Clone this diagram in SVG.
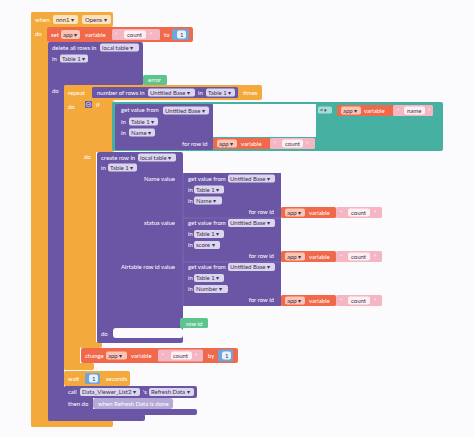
<svg xmlns="http://www.w3.org/2000/svg" width="474" height="437" viewBox="0 0 474 437">
<style>
text{font-family:Lato,"Noto Sans",sans-serif;font-size:6px;fill:#fff}
.dk{fill:#3b3252}
.o{fill:#F4A93D}
.p{fill:#6B56A6}
.r{fill:#F1694B}
.k{fill:#F5B6C3}
.g{fill:#5EC48E}
.b{fill:#6CA6DD}
.c{fill:#46B1A2}
.pp{fill:#DCD5EE}
.po{fill:#FCE3BF}
.pr{fill:#FAC5B3}
.pw{fill:#FDEFF2}
.pb{fill:#E9F2FB}
.pc{fill:#A6DCD3}
.lv{fill:#B5A9D8}
.bg{fill:#FBFBFD}
.sep{stroke:#8572BC;stroke-width:0.6}
</style>
<rect width="474" height="437" fill="#FBFBFD"/>
<g id="connectors"/>

<g id="when">
<rect class="o" x="31" y="12" width="82" height="15" rx="2"/>
<rect class="o" x="31" y="12" width="17" height="415" rx="2"/>
<rect class="o" x="31" y="420" width="82" height="7" rx="2"/>
<text x="35" y="22">when</text>
<rect class="po" x="53" y="15" width="25" height="9" rx="2"/>
<text class="dk" x="56" y="22">nnn1 ▾</text>
<rect class="po" x="82" y="15" width="29" height="9" rx="2"/>
<text class="dk" x="85" y="22">Opens ▾</text>
<text x="35" y="36">do</text>
</g>

<g id="set">
<rect class="r" x="47" y="27" width="146" height="15" rx="2"/>
<text x="51" y="37">set</text>
<rect class="pr" x="61" y="30" width="19" height="9" rx="2"/>
<text class="dk" x="63" y="37">app ▾</text>
<text x="85" y="37">variable</text>
<rect class="k" x="112" y="29" width="48" height="11" rx="1.5"/>
<text x="115" y="37">“</text>
<rect class="pw" x="124" y="30.5" width="22" height="8" rx="2"/>
<text class="dk" x="127" y="37">count</text>
<text x="150" y="37">”</text>
<text x="164" y="37">to</text>
<rect class="b" x="172" y="29" width="17" height="11" rx="1.5"/>
<rect class="pb" x="177" y="30.5" width="9" height="8" rx="2"/>
<text class="dk" x="180" y="37">1</text>
</g>

<g id="delete-rows">
<rect class="p" x="48" y="42" width="95" height="44" rx="2"/>
<rect class="p" x="48" y="42" width="16" height="379" rx="2"/>
<rect class="p" x="48" y="414" width="97" height="7" rx="2"/>
<text x="52" y="49.5">delete all rows in</text>
<rect class="pp" x="100" y="43.5" width="39" height="8" rx="2"/>
<text class="dk" x="102" y="49.5">local table ▾</text>
<text x="52" y="60.5">in</text>
<rect class="pp" x="60" y="54.5" width="28" height="8" rx="2"/>
<text class="dk" x="62" y="60.5">Table 1 ▾</text>
<text x="52" y="93">do</text>
</g>
<g id="error">
<rect class="g" x="143" y="75" width="24" height="10" rx="1.5"/>
<text x="148" y="82">error</text>
</g>

<g id="repeat">
<rect class="o" x="64" y="85" width="198" height="15" rx="2"/>
<rect class="o" x="64" y="85" width="16" height="285" rx="2"/>
<rect class="o" x="64" y="363" width="30" height="7" rx="2"/>
<text x="68" y="95">repeat</text>
<text x="243" y="95">times</text>
<text x="68" y="109">do</text>
</g>
<g id="num-rows">
<rect class="p" x="92" y="87" width="146" height="11" rx="1.5"/>
<text x="97" y="94.5">number of rows in</text>
<rect class="pp" x="148" y="88.5" width="47" height="8" rx="2"/>
<text class="dk" x="150" y="94.5">Untitled Base ▾</text>
<text x="198" y="94.5">in</text>
<rect class="pp" x="206" y="88.5" width="29" height="8" rx="2"/>
<text class="dk" x="208" y="94.5">Table 1 ▾</text>
</g>

<g id="if">
<rect class="o" x="80" y="100" width="34" height="52" rx="2"/>
<rect class="o" x="80" y="100" width="16" height="248" rx="2"/>
<rect class="o" x="80" y="342" width="22" height="6" rx="2"/>
<rect class="p" x="85" y="101" width="7" height="7" rx="1"/>
<circle cx="88.5" cy="104.5" r="2.3" fill="none" stroke="#fff" stroke-width="0.6"/>
<line x1="87.3" y1="104.5" x2="89.7" y2="104.5" stroke="#fff" stroke-width="0.6"/>
<text x="96" y="107">if</text>
<text x="84" y="159">do</text>
</g>

<g id="compare">
<rect class="c" x="112" y="102" width="331" height="49" rx="2"/>
<rect class="bg" x="213" y="104" width="103" height="33"/>
<rect class="pc" x="318" y="106.5" width="14" height="7" rx="1.5"/>
<text class="dk" x="320" y="112" style="font-size:5px">= ▾</text>
<rect class="r" x="337" y="105" width="56" height="11" rx="1.5"/>
<rect class="pr" x="341" y="106.5" width="20" height="8" rx="2"/>
<text class="dk" x="343" y="112.5">app ▾</text>
<text x="364" y="112.5">variable</text>
<rect class="k" x="393" y="105" width="40" height="11" rx="1.5"/>
<text x="397" y="112.5">“</text>
<rect class="pw" x="404" y="106.5" width="21" height="8" rx="2"/>
<text class="dk" x="407" y="112.5">name</text>
<text x="428" y="112.5">”</text>
</g>

<g id="get-value-if">
<rect class="p" x="115" y="104" width="98" height="46" rx="1.5"/>
<text x="121" y="112">get value from</text>
<rect class="pp" x="163" y="106.5" width="46" height="8" rx="2"/>
<text class="dk" x="165" y="112.5">Untitled Base ▾</text>
<text x="121" y="123.5">in</text>
<rect class="pp" x="129" y="117.5" width="29" height="8" rx="2"/>
<text class="dk" x="131" y="123.5">Table 1 ▾</text>
<text x="121" y="134.5">in</text>
<rect class="pp" x="129" y="128.5" width="26" height="8" rx="2"/>
<text class="dk" x="131" y="134.5">Name ▾</text>
<text x="182" y="145.5">for row id</text>
<rect class="r" x="213" y="138" width="57" height="11" rx="1.5"/>
<rect class="pr" x="217" y="139.5" width="20" height="8" rx="2"/>
<text class="dk" x="219" y="145.5">app ▾</text>
<text x="241" y="145.5">variable</text>
<rect class="k" x="270" y="138" width="45" height="11" rx="1.5"/>
<text x="274" y="145.5">“</text>
<rect class="pw" x="282" y="139.5" width="21" height="8" rx="2"/>
<text class="dk" x="285" y="145.5">count</text>
<text x="306" y="145.5">”</text>
</g>

<g id="create-row">
<rect class="p" x="97" y="152" width="86" height="191" rx="2"/>
<rect class="bg" x="113" y="328" width="70" height="10" rx="3"/>
<text x="101" y="159.5">create row in</text>
<rect class="pp" x="138" y="153.5" width="38" height="8" rx="2"/>
<text class="dk" x="140" y="159.5">local table ▾</text>
<text x="101" y="169.5">in</text>
<rect class="pp" x="108" y="163.5" width="29" height="8" rx="2"/>
<text class="dk" x="110" y="169.5">Table 1 ▾</text>
<text x="175" y="180.5" text-anchor="end">Name value</text>
<text x="175" y="225" text-anchor="end">status value</text>
<text x="175" y="269" text-anchor="end">Airtable row id value</text>
<text x="101" y="335.5">do</text>
</g>

<g id="get-value-name">
<rect class="p" x="183" y="173" width="98" height="45"/>
<line class="sep" x1="183" y1="173" x2="183" y2="218"/>
<text x="188" y="180.5">get value from</text>
<rect class="pp" x="228" y="174.5" width="47" height="8" rx="2"/>
<text class="dk" x="230" y="180.5">Untitled Base ▾</text>
<text x="188" y="191.5">in</text>
<rect class="pp" x="194" y="185.5" width="30" height="8" rx="2"/>
<text class="dk" x="196" y="191.5">Table 1 ▾</text>
<text x="188" y="202.5">in</text>
<rect class="pp" x="194" y="196.5" width="28" height="8" rx="2"/>
<text class="dk" x="196" y="202.5">Name ▾</text>
<text x="274" y="214" text-anchor="end">for row id</text>
<rect class="r" x="281" y="207" width="55" height="11" rx="1.5"/>
<rect class="pr" x="285" y="208.5" width="20" height="8" rx="2"/>
<text class="dk" x="287" y="214.5">app ▾</text>
<text x="309" y="214.5">variable</text>
<rect class="k" x="336" y="207" width="46" height="11" rx="1.5"/>
<text x="340" y="214.5">“</text>
<rect class="pw" x="348" y="208.5" width="22" height="8" rx="2"/>
<text class="dk" x="351" y="214.5">count</text>
<text x="374" y="214.5">”</text>
</g>

<g id="get-value-status">
<rect class="p" x="183" y="218" width="98" height="44"/>
<line class="sep" x1="183" y1="218" x2="281" y2="218"/>
<line class="sep" x1="183" y1="218" x2="183" y2="262"/>
<text x="188" y="225">get value from</text>
<rect class="pp" x="228" y="219" width="47" height="8" rx="2"/>
<text class="dk" x="230" y="225">Untitled Base ▾</text>
<text x="188" y="236">in</text>
<rect class="pp" x="194" y="230" width="30" height="8" rx="2"/>
<text class="dk" x="196" y="236">Table 1 ▾</text>
<text x="188" y="247">in</text>
<rect class="pp" x="194" y="241" width="26" height="8" rx="2"/>
<text class="dk" x="196" y="247">score ▾</text>
<text x="274" y="258" text-anchor="end">for row id</text>
<rect class="r" x="281" y="251" width="55" height="11" rx="1.5"/>
<rect class="pr" x="285" y="252.5" width="20" height="8" rx="2"/>
<text class="dk" x="287" y="258.5">app ▾</text>
<text x="309" y="258.5">variable</text>
<rect class="k" x="336" y="251" width="46" height="11" rx="1.5"/>
<text x="340" y="258.5">“</text>
<rect class="pw" x="348" y="252.5" width="22" height="8" rx="2"/>
<text class="dk" x="351" y="258.5">count</text>
<text x="374" y="258.5">”</text>
</g>

<g id="get-value-number">
<rect class="p" x="183" y="262" width="98" height="44"/>
<line class="sep" x1="183" y1="262" x2="281" y2="262"/>
<line class="sep" x1="183" y1="262" x2="183" y2="306"/>
<text x="188" y="269">get value from</text>
<rect class="pp" x="228" y="263" width="47" height="8" rx="2"/>
<text class="dk" x="230" y="269">Untitled Base ▾</text>
<text x="188" y="280">in</text>
<rect class="pp" x="194" y="274" width="30" height="8" rx="2"/>
<text class="dk" x="196" y="280">Table 1 ▾</text>
<text x="188" y="291">in</text>
<rect class="pp" x="194" y="285" width="34" height="8" rx="2"/>
<text class="dk" x="196" y="291">Number ▾</text>
<text x="274" y="302" text-anchor="end">for row id</text>
<rect class="r" x="281" y="295" width="55" height="11" rx="1.5"/>
<rect class="pr" x="285" y="296.5" width="20" height="8" rx="2"/>
<text class="dk" x="287" y="302.5">app ▾</text>
<text x="309" y="302.5">variable</text>
<rect class="k" x="336" y="295" width="46" height="11" rx="1.5"/>
<text x="340" y="302.5">“</text>
<rect class="pw" x="348" y="296.5" width="22" height="8" rx="2"/>
<text class="dk" x="351" y="302.5">count</text>
<text x="374" y="302.5">”</text>
</g>

<g id="row-id">
<rect class="g" x="180" y="318" width="28" height="10" rx="1.5"/>
<text x="186" y="325.5">row id</text>
</g>

<g id="change">
<rect class="r" x="81" y="348" width="157" height="15" rx="2"/>
<text x="85" y="358">change</text>
<rect class="pr" x="106" y="351.5" width="21" height="8" rx="2"/>
<text class="dk" x="108" y="357.5">app ▾</text>
<text x="131" y="358">variable</text>
<rect class="k" x="158" y="349.5" width="45" height="12" rx="1.5"/>
<text x="162" y="358">“</text>
<rect class="pw" x="171" y="351.5" width="21" height="8" rx="2"/>
<text class="dk" x="173" y="357.5">count</text>
<text x="195" y="358">”</text>
<text x="208" y="358">by</text>
<rect class="b" x="218" y="349.5" width="15" height="12" rx="1.5"/>
<rect class="pb" x="222" y="351.5" width="9" height="8" rx="2"/>
<text class="dk" x="225" y="357.5">1</text>
</g>

<g id="wait">
<rect class="o" x="64" y="371" width="66" height="15" rx="2"/>
<text x="68" y="381">wait</text>
<rect class="b" x="85" y="373" width="15" height="11" rx="1.5"/>
<rect class="pb" x="89" y="374.5" width="9" height="8" rx="2"/>
<text class="dk" x="92" y="380.5">1</text>
<text x="106" y="381">seconds</text>
</g>

<g id="call">
<rect class="p" x="64" y="386" width="133" height="12" rx="2"/>
<rect class="p" x="64" y="386" width="29" height="29" rx="2"/>
<rect class="p" x="64" y="409" width="133" height="6" rx="2"/>
<text x="68" y="394">call</text>
<rect class="pp" x="80" y="388" width="60" height="8" rx="2"/>
<text class="dk" x="82" y="394">Data_Viewer_List2 ▾</text>
<text x="143" y="394">'s</text>
<rect class="pp" x="149" y="388" width="45" height="8" rx="2"/>
<text class="dk" x="151" y="394">Refresh Data ▾</text>
<text x="68" y="405.5">then do</text>
<rect class="lv" x="93" y="398" width="80" height="11" rx="3"/>
<text x="98" y="405.5">when Refresh Data is done</text>
</g>
</svg>
